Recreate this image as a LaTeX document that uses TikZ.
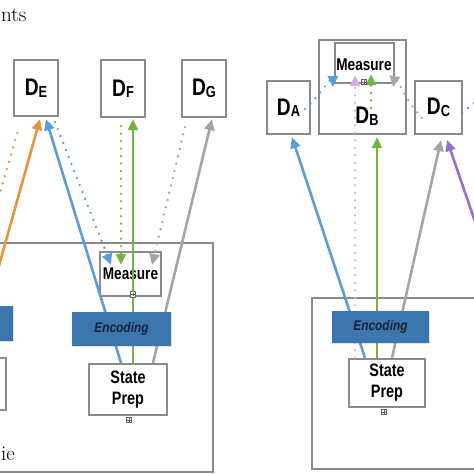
\documentclass[tikz,border=0pt]{standalone}
\usepackage{fontspec}
\newfontfamily\sansf{Liberation Sans}
\usetikzlibrary{arrows.meta,shadows}
\definecolor{boxgray}{HTML}{8A8A8A}
\definecolor{cOrange}{HTML}{E8943A}
\definecolor{cBlue}{HTML}{5B9CDC}
\definecolor{cGreen}{HTML}{74B446}
\definecolor{cGray}{HTML}{A5A5A5}
\definecolor{cPurple}{HTML}{9B6BD6}
\definecolor{cPink}{HTML}{D9AEE6}
\definecolor{encFill}{HTML}{3B76AE}
\definecolor{encText}{HTML}{14233A}
\newcommand{\Dlab}[1]{\scalebox{0.8}[1]{\sansf\bfseries\fontsize{24}{24}\selectfont D\fontsize{16}{16}\selectfont\raisebox{-1.5pt}{#1}}}
\newcommand{\mtext}[1]{\scalebox{0.8}[1]{\sansf\bfseries\fontsize{17}{17}\selectfont #1}}
\newcommand{\sptext}{\scalebox{0.8}[1]{\sansf\bfseries\fontsize{18}{21}\selectfont\begin{tabular}{@{}c@{}}State\\Prep\end{tabular}}}
\newcommand{\enctext}{\scalebox{0.85}[1]{\sansf\bfseries\itshape\fontsize{14}{14}\selectfont\color{encText}Encoding}}
\tikzset{
  box/.style={draw=boxgray, line width=2.2pt, inner sep=0pt},
  container/.style={draw=boxgray, line width=2.2pt},
  solidarrow/.style={line width=2.6pt, -{Triangle[length=11pt,width=10pt]}},
  dotline/.style={line width=2.6pt, line cap=round, dash pattern=on 0pt off 7.5pt},
  dotarrow/.style={dotline, -{Triangle[length=11pt,width=10pt]}},
  enc/.style={fill=encFill, inner sep=0pt, drop shadow={opacity=0.25, shadow xshift=1pt, shadow yshift=-1pt}},
  plusbox/.style={draw=boxgray!70!black, line width=0.6pt, minimum size=5.5pt, inner sep=0pt, fill=white,
    path picture={\draw[line width=0.5pt] ([yshift=-1pt]path picture bounding box.north) -- ([yshift=1pt]path picture bounding box.south) ([xshift=1pt]path picture bounding box.west) -- ([xshift=-1pt]path picture bounding box.east);}},
  hand/.style={font=\fontsize{21}{21}\selectfont, inner sep=0pt, anchor=base west}
}
\begin{document}
\begin{tikzpicture}[x=1pt,y=-1pt]
\clip (0,0) rectangle (474,474);
\fill[white] (0,0) rectangle (474,474);
% containers
\draw[container] (-10,243) rectangle (213,472);
\draw[container] (312,298) rectangle (490,469);
% left panel nodes
\node[box, minimum width=44pt, minimum height=56pt] (DE) at (36,88) {\Dlab{E}};
\node[box, minimum width=44pt, minimum height=57pt] (DF) at (123,88.5) {\Dlab{F}};
\node[box, minimum width=44pt, minimum height=57pt] (DG) at (204,88.5) {\Dlab{G}};
\node[box, minimum width=61pt, minimum height=44pt] (MeasL) at (130.5,274) {\mtext{Measure}};
\node[box, minimum width=78pt, minimum height=51pt] (SPL) at (128,389.5) {\sptext};
\node[box, minimum width=16pt, minimum height=52pt] (SPX) at (-2,384) {};
% right panel nodes
\node[box, minimum width=43pt, minimum height=53pt] (DA) at (288.5,107.5) {\Dlab{A}};
\node[box, minimum width=87pt, minimum height=94pt] (DB) at (362.5,87) {};
\node[inner sep=0pt] (DBlab) at (367,116) {\Dlab{B}};
\node[box, minimum width=59pt, minimum height=40pt] (DBM) at (364.5,63) {};
\node[inner sep=0pt] (DBMlab) at (364,65) {\mtext{Measure}};
\node[box, minimum width=47pt, minimum height=53pt] (DC) at (438.5,107.5) {\Dlab{C}};
\node[box, minimum width=76pt, minimum height=48pt] (SPR) at (387,383) {\sptext};
% texts
\node[hand] (t1) at (1,21) {nts};
\node[hand] (t2) at (1,460) {ie};
% left connectors
\coordinate (O0) at (-5,280);
\coordinate (O1) at (-3.5,205);
\draw[solidarrow, cOrange] (O0) -- ([xshift=4pt,yshift=-2pt]DE.south);
\draw[dotline, cOrange] (O1) -- ([xshift=-17pt,yshift=-10pt]DE.south);
\draw[solidarrow, cBlue] ([xshift=-7pt]SPL.north) -- ([xshift=10pt,yshift=-2pt]DE.south);
\draw[dotarrow, cBlue] ([xshift=19pt,yshift=-5pt]DE.south) -- ([xshift=-19.5pt,yshift=-14pt]MeasL.north);
\draw[solidarrow, cGreen] ([xshift=5pt]SPL.north) -- ([xshift=10pt,yshift=-1pt]DF.south);
\draw[dotarrow, cGreen] ([xshift=-2pt,yshift=-8pt]DF.south) -- ([xshift=-9.5pt,yshift=-14pt]MeasL.north);
\draw[solidarrow, cGray] ([xshift=25pt]SPL.north) -- ([xshift=8pt,yshift=-1pt]DG.south);
\draw[dotarrow, cGray] ([xshift=-19pt,yshift=-9pt]DG.south) -- ([xshift=21.5pt,yshift=-14pt]MeasL.north);
% right connectors
\coordinate (P0) at (490,265);
\coordinate (G1) at (371,108);
\coordinate (PP) at (482,97);
\draw[solidarrow, cBlue] ([xshift=-22pt]SPR.north) -- ([xshift=3.5pt,yshift=-2pt]DA.south);
\draw[solidarrow, cGreen] ([xshift=-10pt]SPR.north) -- ([xshift=14.5pt,yshift=-2pt]DB.south);
\draw[solidarrow, cGray] ([xshift=5pt]SPR.north) -- ([xshift=2.5pt,yshift=-5pt]DC.south);
\draw[solidarrow, cPurple] (P0) -- ([xshift=8.5pt,yshift=-5pt]DC.south);
\draw[dotarrow, cPink] ([xshift=-32pt]SPR.north) -- ([xshift=-9.5pt,yshift=9pt]DBM.south);
\draw[dotarrow, cGreen] (G1) -- ([xshift=6.5pt,yshift=10pt]DBM.south);
\draw[dotarrow, cBlue] ([xshift=-6pt,yshift=-1.5pt]DA.east) .. controls +(14,-13) and +(0,-12) .. ([xshift=-1pt,yshift=-3pt]DBM.south west);
\draw[dotarrow, cGray] ([xshift=8pt,yshift=-10.5pt]DC.west) .. controls +(-14,-14) and +(2,-12) .. ([xshift=-2pt,yshift=-3pt]DBM.south east);
\draw[dotline, cPurple] ([xshift=-1pt,yshift=-5pt]DC.east) -- (PP);
% encoding bars (on top)
\node[enc, minimum width=99pt, minimum height=34pt] (EncL) at (121.5,329) {\enctext};
\node[enc, minimum width=97pt, minimum height=32pt] (EncR) at (380.5,327) {\enctext};
\node[enc, minimum width=23pt, minimum height=35pt] (EncX) at (1.5,323.5) {};
% small plus boxes
\node[plusbox] (pL1) at (133,294.5) {};
\node[plusbox] (pL2) at (129,420) {};
\node[plusbox] (pR1) at (364,82) {};
\node[plusbox] (pR2) at (384,412) {};
\end{tikzpicture}
\end{document}
